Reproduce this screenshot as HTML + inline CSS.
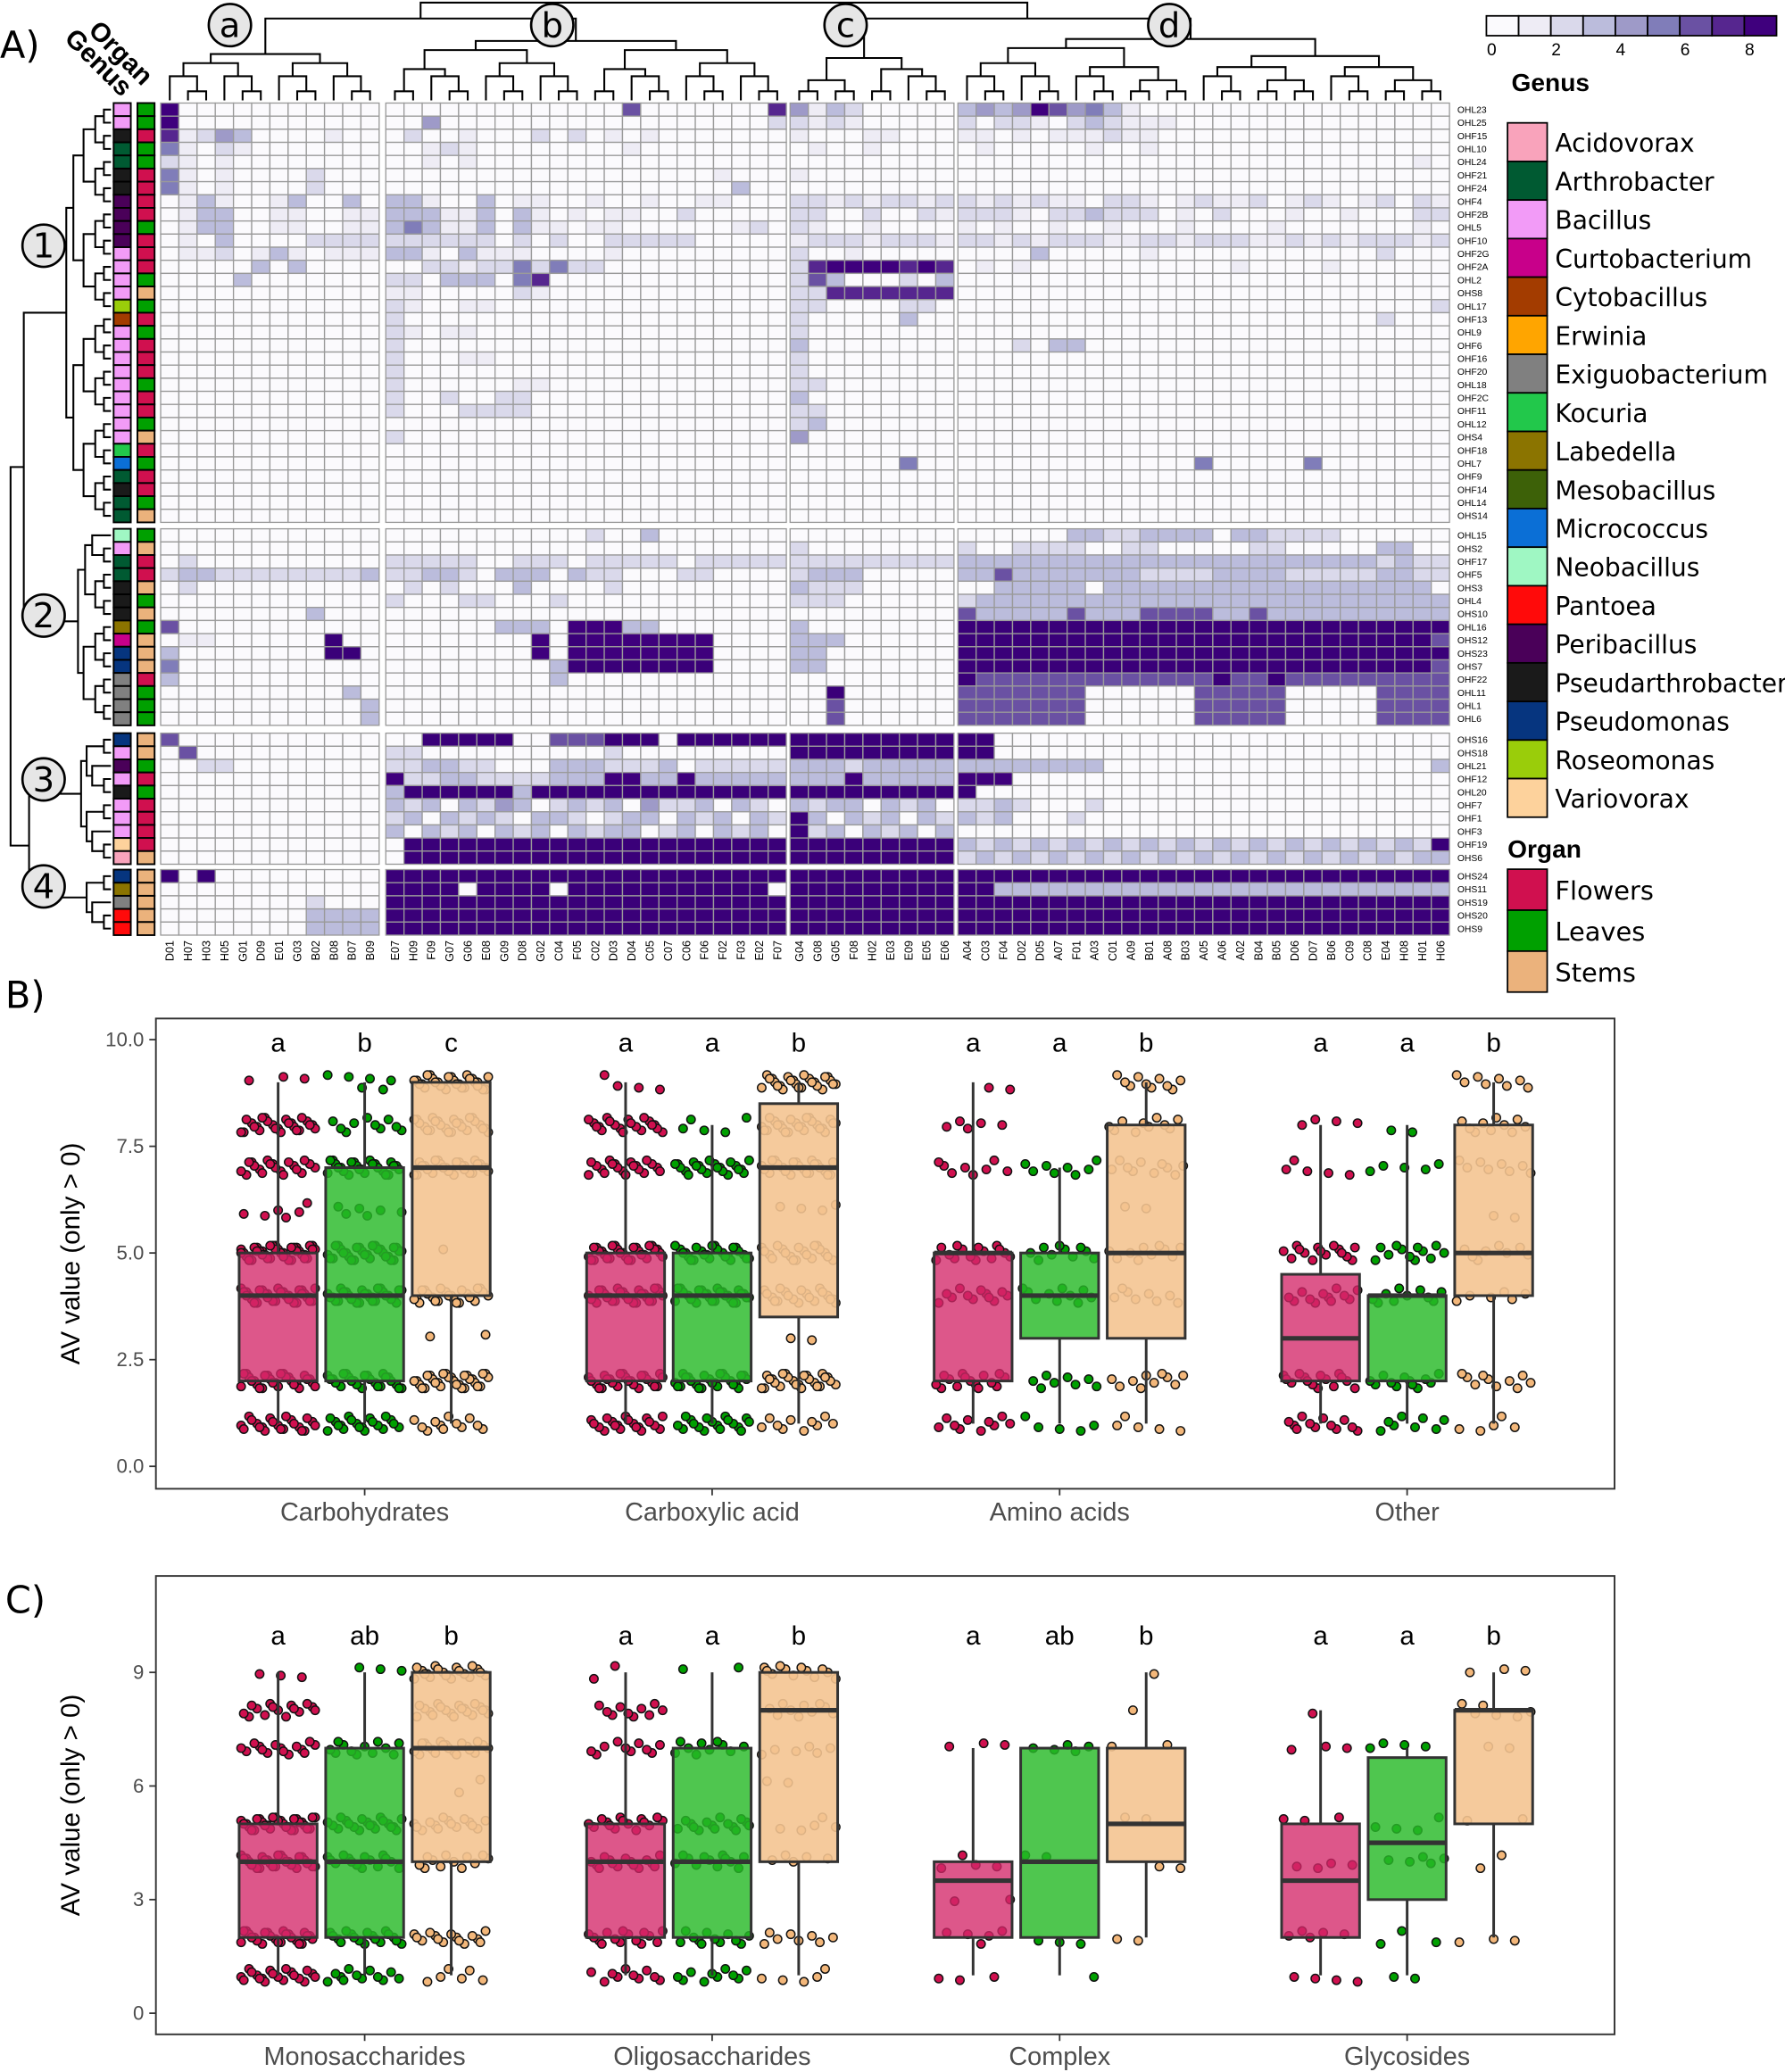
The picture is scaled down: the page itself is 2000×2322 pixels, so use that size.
<!DOCTYPE html>
<html><head><meta charset="utf-8">
<style>
html,body{margin:0;padding:0;background:#fff;}
svg{display:block;font-family:"Liberation Sans","DejaVu Sans",sans-serif;}
.dv{font-family:"DejaVu Sans","Liberation Sans",sans-serif;}
</style></head>
<body>
<svg id="fig" width="2000" height="2322" viewBox="0 0 1351 1568.5" xmlns="http://www.w3.org/2000/svg">
<rect width="1351" height="1568.5" fill="#fff"/>
<text x="0" y="44" font-size="28" class="dv">A)</text>
<text x="4" y="763" font-size="28" class="dv">B)</text>
<text x="4" y="1221" font-size="28" class="dv">C)</text>
<text transform="translate(66,24) rotate(45)" font-size="20" font-weight="bold">Organ</text>
<text transform="translate(48,30) rotate(45)" font-size="20" font-weight="bold">Genus</text>
<g id="heat"></g>
<g id="panelB"></g>
<g id="panelC"></g>
<g id="legend"></g>
</svg>
<script>
// ===== Heatmap data =====
const colLabels = ["D01","H07","H03","H05","G01","D09","E01","G03","B02","B08","B07","B09",
"E07","H09","F09","G07","G06","E08","G09","D08","G02","C04","F05","C02","D03","D04","C05","C07","C06","F06","F02","F03","E02","F07",
"G04","G08","G05","F08","H02","E03","E09","E05","E06",
"A04","C03","F04","D02","D05","A07","F01","A03","C01","A09","B01","A08","B03","A05","A06","A02","B04","B05","D06","D07","B06","C09","C08","E04","H08","H01","H06"];
const colGroupSizes = [12,22,9,27];
const rowGroupLabels = [
["OHL23","OHL25","OHF15","OHL10","OHL24","OHF21","OHF24","OHF4","OHF2B","OHL5","OHF10","OHF2G","OHF2A","OHL2","OHS8","OHL17","OHF13","OHL9","OHF6","OHF16","OHF20","OHL18","OHF2C","OHF11","OHL12","OHS4","OHF18","OHL7","OHF9","OHF14","OHL14","OHS14"],
["OHL15","OHS2","OHF17","OHF5","OHS3","OHL4","OHS10","OHL16","OHS12","OHS23","OHS7","OHF22","OHL11","OHL1","OHL6"],
["OHS16","OHS18","OHL21","OHF12","OHL20","OHF7","OHF1","OHF3","OHF19","OHS6"],
["OHS24","OHS11","OHS19","OHS20","OHS9"]];
// values 0-9, segments a|b|c|d
const heatRows = [
"800000000000|0000000000000600000007|413200000|343486453100000000000000000",
"800000000000|0040000000000000000002|212100000|202210232111000000000000000",
"712430000100|0200100020201010000000|100011000|110101112110000000000000000",
"510210000000|0012100000000100000000|010010000|010000010010000000000000000",
"210100000000|0010100000000000000000|000000000|000000000000000000000000010",
"510100002000|0000000000000000001000|100000000|000000000000000000000000000",
"510100002000|0000000000000000000300|000000000|000000000000000000000000000",
"013100130030|3310030110010010011000|221212212|212121102210121120121012021",
"013300110011|3331130310101100200000|220020021|222102232220102000100100022",
"013300110011|3531130311011000000120|210010000|101001001000100001000000010",
"010300002222|2222220202002222200000|122212221|221212221122122211212122212",
"011201310111|3310311100001000000000|200100000|000030000010000000000002000",
"000003030000|0022122525220000000000|278888787|010100000000000100001000000",
"000030000000|2203330570000000000000|263000203|000000000000000000000000000",
"000000000000|1100000210000000000000|227777777|000000000000000000000000000",
"000000000000|2100110000000000000000|220000220|000000000000000000000000002",
"000000000000|2000000000000000000000|200000300|000000000000000000000002000",
"000000000000|2101100000000000000000|200000000|000000000000000000000000000",
"000000000000|2000000000000000000000|300000000|000203300000000000000000000",
"000000000000|2000110000000000000000|200000000|000000000000000000000000000",
"000000000000|2000000000000000000000|200000000|000000000000000000000000000",
"000000000000|2000000110000000000000|220000000|000000000000000000000000000",
"000000000000|2002002200000000000000|300000000|000000000000000000000000000",
"000000000000|2000222200000000000000|220000000|000000000000000000000000000",
"000000000000|0000000000000000000000|230000000|000000000000000000000000000",
"000000000000|2000000000000000000000|400000000|000000000000000000000000000",
"000000000000|0000000000000000000000|000000000|000000000000000000000000000",
"000000000000|0000000000000000000000|000000500|000000000000050000050000000",
"000000000000|0000000000000000000000|000000000|000000000000000000000000000",
"000000000000|0000000000000000000000|000000000|000000000000000000000000000",
"000000000000|0000000000000000000000|000000000|000000000000000000000000000",
"000000000000|0000000000000000000000|000000000|000000000000000000000000000",
"000000000000|0000000000020030000000|000000000|000000332233330332222000000",
"000000000000|0000000000000000000000|200000000|200222200220000022000003300",
"020000000000|2222200222022222022222|222222222|333333333333333333333332322",
"233222222223|2233203330322000220000|233300000|336333333322223333222223322",
"020000000000|0202000300002000000000|322200000|003333303333333333333333330",
"000000000000|2000220002000000000000|222000000|233333333333333333333333333",
"000000003000|0000000000000000000000|000000000|633333633366663363333333333",
"600000000000|0000003330888330000000|300000000|999999999999999999999999999",
"011000000900|0000000080988888880000|333000000|999999999999999999999999996",
"300000000990|0000000080888888880000|330000000|999999999999999999999999999",
"500000000000|0000000003999999990000|330000000|999999999999999999999999996",
"300000000000|0000000003000000000000|000000000|966666666666669669666666666",
"000000000030|0000000000000000000000|009000000|666666600000066666000006666",
"000000000003|0000000000000000000000|006000000|666666600000066666000006666",
"000000000003|0000000000000000000000|006000000|666666600000066666000006666",
"600000000000|0099999006669990999999|999999999|990000000000000000000000000",
"060000000000|2200000000002000000000|999999999|990000000000000000000000000",
"002200000000|2233220003332223022222|333233333|333333330000000000000000003",
"000000000000|8223322223338833833333|333833333|888000000000000000000000000",
"000000000000|3999999399999999999999|999999999|900000000000000000000000000",
"000000000000|3230324302323042230320|323303230|223200020000000000000000000",
"000000000000|2303232033202330323032|930323032|323000200000000000000000000",
"000000000000|3032303230323302303230|923032303|000000000000000000000000000",
"000000000000|0999999999999999999999|999999999|323232323232323232323232329",
"000000000000|0999999999999999999999|999999999|232323232323232323232323233",
"909000000000|9999999999999999999999|999999999|999999999999999999999999999",
"000000000000|9999099990999999999990|999999999|993333333333333333333333333",
"000000002000|9999999999999999999999|999999999|999999999999999999999999999",
"000000003333|9999999999999999999999|999999999|999999999999999999999999999",
"000000003333|9999999999999999999999|999999999|999999999999999999999999999"];
const rowGenus = ["Bac","Bac","Psa","Art","Art","Psa","Psa","Per","Per","Per","Per","Bac","Bac","Bac","Bac","Ros","Cyt","Bac","Bac","Bac","Bac","Bac","Bac","Bac","Bac","Bac","Koc","Mic","Art","Psa","Art","Art",
"Neo","Bac","Art","Art","Psa","Psa","Psa","Lab","Cur","Psm","Psm","Exi","Exi","Exi","Exi",
"Psm","Bac","Per","Bac","Psa","Bac","Bac","Bac","Var","Aci",
"Psm","Lab","Exi","Pan","Pan"];
const genusNames = ["Acidovorax","Arthrobacter","Bacillus","Curtobacterium","Cytobacillus","Erwinia","Exiguobacterium","Kocuria","Labedella","Mesobacillus","Micrococcus","Neobacillus","Pantoea","Peribacillus","Pseudarthrobacter","Pseudomonas","Roseomonas","Variovorax"];
const genusCodes = ["Aci","Art","Bac","Cur","Cyt","Erw","Exi","Koc","Lab","Mes","Mic","Neo","Pan","Per","Psa","Psm","Ros","Var"];
const genusColors = ["#f9a3bb","#005a32","#f29bf7","#c8008a","#a33c00","#ffa500","#808080","#22c84b","#8b7400","#3d6108","#0b6fd6","#9ff7c3","#ff0a0a","#4a0059","#1a1a1a","#06357f","#9acd0a","#fdd29c"];
const organNames = ["Flowers","Leaves","Stems"];
const organColors = ["#d0104f","#00a000","#ebb27c"];
const purples = ["#fbfafd","#eeecf5","#dad9eb","#bbbcdc","#9e9ac8","#807db9","#6a51a3","#56268f","#3f007d","#3a0079"];

const NS="http://www.w3.org/2000/svg";
function mk(tag, attrs, parent){const e=document.createElementNS(NS,tag);for(const k in attrs)e.setAttribute(k,attrs[k]);parent.appendChild(e);return e;}

const heat=document.getElementById('heat');
const cw=13.78, rh=9.92;
const colGroupX=[121.6,292,598,725];
const rowGroupY=[78,400.3,555,658.3];
const colX=[]; colGroupSizes.forEach((n,g)=>{for(let i=0;i<n;i++){colX.push(colGroupX[g]+i*cw);}});
const rowY=[]; rowGroupLabels.forEach((grp,g)=>grp.forEach((l,i)=>rowY.push(rowGroupY[g]+i*rh)));
const allRowLabels=[].concat(...rowGroupLabels);

heatRows.forEach((str,r)=>{
  const vals=str.replace(/\|/g,'').split('').map(Number);
  vals.forEach((v,c)=>{
    const e=mk('rect',{x:colX[c],y:rowY[r],width:cw,height:rh,fill:purples[v],stroke:'#9a9a9a','stroke-width':0.9},heat);
    
    
  });
  const gc=genusColors[genusCodes.indexOf(rowGenus[r])];
  const g1=mk('rect',{x:86,y:rowY[r],width:13,height:rh,fill:gc,stroke:'#000','stroke-width':1.3},heat);
  
  
  const lab=allRowLabels[r];
  const oi=lab[2]==='F'?0:(lab[2]==='L'?1:2);
  const g2=mk('rect',{x:104,y:rowY[r],width:13,height:rh,fill:organColors[oi],stroke:'#000','stroke-width':1.3},heat);
  
  
  const t=mk('text',{x:1103,y:rowY[r]+rh*0.75,'font-size':7},heat);
  t.textContent=lab;
  
  
});
colLabels.forEach((l,c)=>{
  const x=colX[c]+cw/2+3;
  const t=mk('text',{x:0,y:0,'font-size':8.5,'text-anchor':'end',transform:`translate(${x},712) rotate(-90)`},heat);
  t.textContent=l;
  
  
});
function tree(pos, base, depthStep, horiz, parent){
  function rec(lo,hi,d){
    if(hi-lo===1) return {p:pos[lo],h:0};
    const mid=Math.floor((lo+hi)/2);
    const L=rec(lo,mid,d+1), R=rec(mid,hi,d+1);
    const h=Math.max(L.h,R.h)+depthStep*(0.6+((lo*7+hi*3)%5)/6);
    let dpath;
    if(!horiz) dpath=`M${L.p},${base-L.h}V${base-h}H${R.p}V${base-R.h}`;
    else dpath=`M${base-L.h},${L.p}H${base-h}V${R.p}H${base-R.h}`;
    const e=mk('path',{d:dpath,fill:'none',stroke:'#000','stroke-width':1.4},parent);
    
    
    return {p:(L.p+R.p)/2,h:h};
  }
  return rec(0,pos.length,0);
}
const tops=[]; {let c=0; colGroupSizes.forEach(n=>{const p=colX.slice(c,c+n).map(x=>x+cw/2);tops.push(tree(p,76,9,false,heat));c+=n;});}
const lefts=[]; {let r=0; rowGroupLabels.forEach(g=>{const p=rowY.slice(r,r+g.length).map(y=>y+rh/2);lefts.push(tree(p,84,7,true,heat));r+=g.length;});}
function joinV(a,b,h,base){const e=mk('path',{d:`M${a.p},${base-a.h}V${h}H${b.p}V${base-b.h}`,fill:'none',stroke:'#000','stroke-width':1.4},heat);return {p:(a.p+b.p)/2,h:base-h};}
const ab=joinV(tops[0],tops[1],14,76), cd=joinV(tops[2],tops[3],14,76);
joinV(ab,cd,2,76);
function joinH(a,b,x,base){const e=mk('path',{d:`M${base-a.h},${a.p}H${x}V${b.p}H${base-b.h}`,fill:'none',stroke:'#000','stroke-width':1.4},heat);return {p:(a.p+b.p)/2,h:base-x};}
const l12=joinH(lefts[0],lefts[1],18,84), l34=joinH(lefts[2],lefts[3],22,84);
joinH(l12,l34,8,84);
const circ=[["a",174,19],["b",418,19],["c",640,19],["d",885,19],["1",33,186],["2",33,466],["3",33,590],["4",33,671]];
circ.forEach(c=>{
  const g=mk('g',{},heat);
  
  
  mk('ellipse',{cx:c[1],cy:c[2],rx:16,ry:16,fill:'#e6e6e6',stroke:'#000','stroke-width':1.8},g);
  const t=mk('text',{x:c[1],y:c[2]+9,'font-size':26,'text-anchor':'middle',class:'dv'},g);
  t.textContent=c[0];
});

// ===== Legend =====
const leg=document.getElementById('legend');
const scaleTicks=[0,2,4,6,8];
for(let i=0;i<9;i++){const e=mk('rect',{x:1125+i*24.4,y:12,width:24.4,height:15,fill:purples[i],stroke:'#000','stroke-width':1.2},leg);}
scaleTicks.forEach(v=>{const t=mk('text',{x:1125+v*24.4+4,y:42,'font-size':13,'text-anchor':'middle'},leg);t.textContent=v;});
{const t=mk('text',{x:1144,y:69,'font-size':19,'font-weight':'bold'},leg);t.textContent='Genus';}
genusNames.forEach((n,i)=>{
  const y=93+i*29.2;
  const g=mk('g',{},leg);
  
  
  mk('rect',{x:1141,y:y,width:30,height:29.2,fill:genusColors[i],stroke:'#000','stroke-width':1.2},g);
  const t=mk('text',{x:1177,y:y+22,'font-size':19,class:'dv'},g);t.textContent=n;
});
{const t=mk('text',{x:1141,y:649,'font-size':19,'font-weight':'bold'},leg);t.textContent='Organ';}
organNames.forEach((n,i)=>{
  const y=658+i*31;
  const g=mk('g',{},leg);
  
  
  mk('rect',{x:1141,y:y,width:30,height:31,fill:organColors[i],stroke:'#000','stroke-width':1.2},g);
  const t=mk('text',{x:1177,y:y+23,'font-size':19.5,class:'dv'},g);t.textContent=n;
});

// ===== Boxplot data =====
const bCategories=["Carbohydrates","Carboxylic acid","Amino acids","Other"];
const bLetters=[["a","b","c"],["a","a","b"],["a","a","b"],["a","a","b"]];
const bStatsFlowers=[[1,2,4,5,9],[1,2,4,5,9],[1,2,5,5,9],[1,2,3,4.5,8]];
const bStatsLeaves=[[1,2,4,7,9],[1,2,4,5,8],[1,3,4,5,7],[1,2,4,4,8]];
const bStatsStems=[[1,4,7,9,9],[1,3.5,7,8.5,9],[1,3,5,8,9],[1,4,5,8,9]];
const bCountsFlowers=[[22,28,0,35,40,6,20,25,3],[20,25,0,30,30,0,20,20,4],[10,15,0,12,15,0,8,5,2],[12,15,0,12,15,0,5,4,0]];
const bCountsLeaves=[[20,25,0,30,30,6,25,10,6],[18,25,0,28,25,0,22,5,0],[5,8,0,10,10,0,8,0,0],[8,12,0,10,12,0,5,2,0]];
const bCountsStems=[[12,30,2,25,1,0,30,25,30],[10,25,2,20,20,4,25,25,25],[5,10,0,8,10,2,10,10,10],[5,10,0,6,8,2,8,10,8]];
const bTicks=[0,2.5,5,7.5,10];
const bTickLabels=["0.0","2.5","5.0","7.5","10.0"];

const cCategories=["Monosaccharides","Oligosaccharides","Complex","Glycosides"];
const cLetters=[["a","ab","b"],["a","a","b"],["a","ab","b"],["a","a","b"]];
const cStatsFlowers=[[1,2,4,5,9],[1,2,4,5,9],[1,2,3.5,4,7],[1,2,3.5,5,8]];
const cStatsLeaves=[[1,2,4,7,9],[1,2,4,7,9],[1,2,4,7,7],[1,3,4.5,6.75,7]];
const cStatsStems=[[1,4,7,9,9],[1,4,8,9,9],[2,4,5,7,9],[2,5,8,8,9]];
const cCountsFlowers=[[20,25,0,30,30,0,15,15,3],[10,15,0,15,15,0,10,10,2],[3,5,2,4,0,0,3,0,0],[4,5,0,4,3,0,3,1,0]];
const cCountsLeaves=[[12,18,0,15,20,0,12,0,3],[10,12,0,12,15,0,10,0,2],[1,3,0,2,0,0,5,0,0],[2,3,0,5,4,0,4,0,0]];
const cCountsStems=[[6,15,0,12,15,2,20,20,20],[5,8,0,5,5,2,6,10,12],[0,2,0,2,2,0,2,1,1],[0,3,0,2,2,0,2,6,3]];
const cTicks=[0,3,6,9];
const cTickLabels=["0","3","6","9"];

const boxFill=["rgba(212,40,105,0.78)","rgba(40,185,40,0.82)","rgba(244,196,145,0.9)"];
const ptFill=["#d0104f","#00a000","#f3b77a"];
const groupCenters=[276,539,802,1065];
const boxOffsets=[-65.5,0,65.5];

function boxPanel(gid, cats, letters, statsArr, countsArr, ticks, tickLabels, frame, yMaxVal, y0px, y1px, letterY, catY){
  const g=document.getElementById(gid);
  const ys=v=>y0px+(v/yMaxVal)*(y1px-y0px);
  const f=mk('rect',{x:frame[0],y:frame[1],width:frame[2],height:frame[3],fill:'none',stroke:'#333','stroke-width':1.3},g);
  
  
  ticks.forEach((v,i)=>{
    mk('line',{x1:frame[0]-5,x2:frame[0],y1:ys(v),y2:ys(v),stroke:'#333','stroke-width':1.2},g);
    const t=mk('text',{x:frame[0]-9,y:ys(v)+5,'font-size':15,'text-anchor':'end',fill:'#4d4d4d'},g);
    t.textContent=tickLabels[i];
    
    
  });
  const yl=mk('text',{x:0,y:0,'font-size':20,'text-anchor':'middle',transform:`translate(60,${(frame[1]+frame[1]+frame[3])/2}) rotate(-90)`},g);
  yl.textContent='AV value (only > 0)';
  
  
  cats.forEach((cat,ci)=>{
    const cx=groupCenters[ci];
    mk('line',{x1:cx,x2:cx,y1:frame[1]+frame[3],y2:frame[1]+frame[3]+5,stroke:'#333','stroke-width':1.2},g);
    const t=mk('text',{x:cx,y:catY,'font-size':19.5,'text-anchor':'middle',fill:'#4d4d4d'},g);
    t.textContent=cat;
    
    
    for(let o=0;o<3;o++){
      const bx=cx+boxOffsets[o];
      const st=statsArr[o][ci], cnt=countsArr[o][ci];
      const pg=mk('g',{},g);
      
      
      let k=0;
      cnt.forEach((n,vi)=>{
        const val=vi+1;
        for(let j=0;j<n;j++){
          const jx=(((k*37+ci*11+o*5)%29)/28-0.5)*56;
          const jy=(((k*17+3)%9)/8-0.5)*0.34;
          mk('circle',{cx:bx+jx,cy:ys(val+jy),r:3.2,fill:ptFill[o],stroke:'#111','stroke-width':1},pg);
          k++;
        }
      });
      const bg=mk('g',{},g);
      
      
      mk('line',{x1:bx,x2:bx,y1:ys(st[0]),y2:ys(st[1]),stroke:'#333','stroke-width':2},bg);
      mk('line',{x1:bx,x2:bx,y1:ys(st[3]),y2:ys(st[4]),stroke:'#333','stroke-width':2},bg);
      mk('rect',{x:bx-29.5,y:ys(st[3]),width:59,height:Math.max(0.5,ys(st[1])-ys(st[3])),fill:boxFill[o],stroke:'#333','stroke-width':2},bg);
      mk('line',{x1:bx-29.5,x2:bx+29.5,y1:ys(st[2]),y2:ys(st[2]),stroke:'#333','stroke-width':3.5},bg);
      const lt=mk('text',{x:bx,y:letterY,'font-size':20,'text-anchor':'middle'},g);
      lt.textContent=letters[ci][o];
      
      
    }
  });
}
boxPanel('panelB',bCategories,bLetters,[bStatsFlowers,bStatsLeaves,bStatsStems],[bCountsFlowers,bCountsLeaves,bCountsStems],bTicks,bTickLabels,[118,771,1104,356],10,1110,787,796,1151);
boxPanel('panelC',cCategories,cLetters,[cStatsFlowers,cStatsLeaves,cStatsStems],[cCountsFlowers,cCountsLeaves,cCountsStems],cTicks,cTickLabels,[118,1193,1104,347],9,1524,1266,1245,1563);
</script>
</body></html>
